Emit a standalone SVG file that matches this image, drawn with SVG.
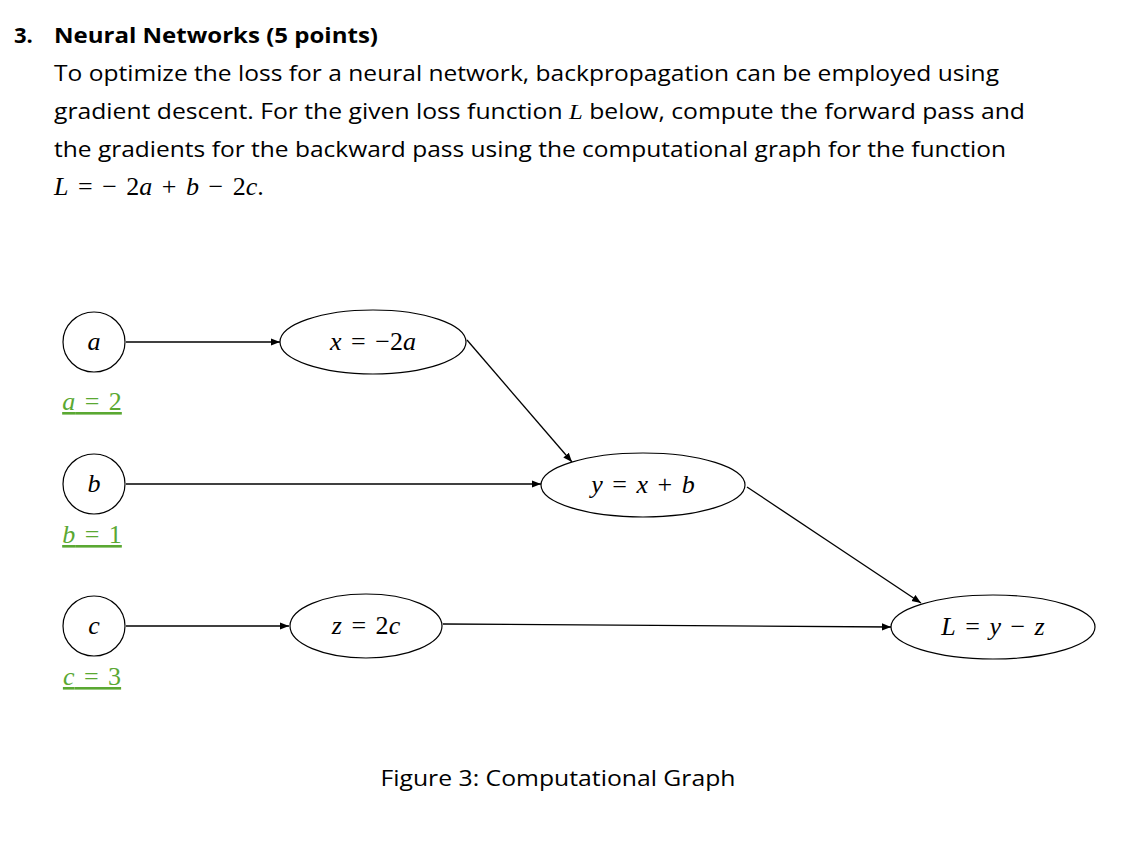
<svg xmlns="http://www.w3.org/2000/svg" width="1130" height="864" viewBox="0 0 1130 864">
<defs>
<marker id="ar" viewBox="0 0 10 10" refX="10" refY="5" markerWidth="7" markerHeight="7" orient="auto"><path d="M0,1 L10,5 L0,9 z" fill="#000"/></marker>
<style>
.t{font-family:"Open Sans","Liberation Sans",Arial,sans-serif;font-size:22px;fill:#000}
.m{font-family:"Liberation Serif","DejaVu Serif",serif;font-size:26px;fill:#000;word-spacing:3px}
.i{font-style:italic}
.g{fill:#5aa832;text-decoration:underline}
.n{fill:#fff;stroke:#000;stroke-width:1.2}
.e{stroke:#000;stroke-width:1.3;fill:none;marker-end:url(#ar)}
</style>
</defs>
<rect width="1130" height="864" fill="#fff"/>
<text class="t" x="14" y="43" font-weight="bold">3.</text>
<text class="t" x="54" y="43" font-weight="bold" textLength="324" lengthAdjust="spacingAndGlyphs">Neural Networks (5 points)</text>
<text class="t" x="54" y="81" textLength="945" lengthAdjust="spacingAndGlyphs">To optimize the loss for a neural network, backpropagation can be employed using</text>
<text class="t" x="54" y="119" textLength="971" lengthAdjust="spacingAndGlyphs">gradient descent. For the given loss function <tspan class="i" font-family="Liberation Serif,serif">L</tspan> below, compute the forward pass and</text>
<text class="t" x="54" y="157" textLength="952" lengthAdjust="spacingAndGlyphs">the gradients for the backward pass using the computational graph for the function</text>
<text class="m" x="54" y="195"><tspan class="i">L</tspan> = − 2<tspan class="i">a</tspan> + <tspan class="i">b</tspan> − 2<tspan class="i">c</tspan>.</text>
<g id="connectors">
<line class="e" x1="126" y1="342" x2="280" y2="342"/>
<line class="e" x1="467" y1="340" x2="572" y2="462"/>
<line class="e" x1="126" y1="484" x2="541" y2="484"/>
<line class="e" x1="747" y1="487" x2="921" y2="603"/>
<line class="e" x1="126" y1="626" x2="289" y2="626"/>
<line class="e" x1="443" y1="624" x2="891" y2="627"/>
</g>
<g id="node-a"><ellipse class="n" cx="94" cy="342" rx="31" ry="30"/><text class="m i" x="94" y="350" text-anchor="middle">a</text></g>
<g id="node-x"><ellipse class="n" cx="373" cy="342" rx="93" ry="32"/><text class="m" x="373" y="350" text-anchor="middle"><tspan class="i">x</tspan> = −2<tspan class="i">a</tspan></text></g>
<g id="node-b"><ellipse class="n" cx="94" cy="484" rx="31" ry="30"/><text class="m i" x="94" y="492" text-anchor="middle">b</text></g>
<g id="node-y"><ellipse class="n" cx="643" cy="485" rx="102" ry="32"/><text class="m" x="643" y="493" text-anchor="middle"><tspan class="i">y</tspan> = <tspan class="i">x</tspan> + <tspan class="i">b</tspan></text></g>
<g id="node-c"><ellipse class="n" cx="94" cy="626" rx="31" ry="30"/><text class="m i" x="94" y="634" text-anchor="middle">c</text></g>
<g id="node-z"><ellipse class="n" cx="366" cy="626" rx="76" ry="32"/><text class="m" x="366" y="634" text-anchor="middle"><tspan class="i">z</tspan> = 2<tspan class="i">c</tspan></text></g>
<g id="node-L"><ellipse class="n" cx="993" cy="627" rx="102" ry="32"/><text class="m" x="993" y="635" text-anchor="middle"><tspan class="i">L</tspan> = <tspan class="i">y</tspan> − <tspan class="i">z</tspan></text></g>
<text class="m g" x="92" y="410" text-anchor="middle"><tspan class="i">a</tspan> = 2</text>
<text class="m g" x="92" y="543" text-anchor="middle"><tspan class="i">b</tspan> = 1</text>
<text class="m g" x="92" y="685" text-anchor="middle"><tspan class="i">c</tspan> = 3</text>
<text class="t" x="558" y="786" text-anchor="middle" textLength="355" lengthAdjust="spacingAndGlyphs">Figure 3: Computational Graph</text>
</svg>
